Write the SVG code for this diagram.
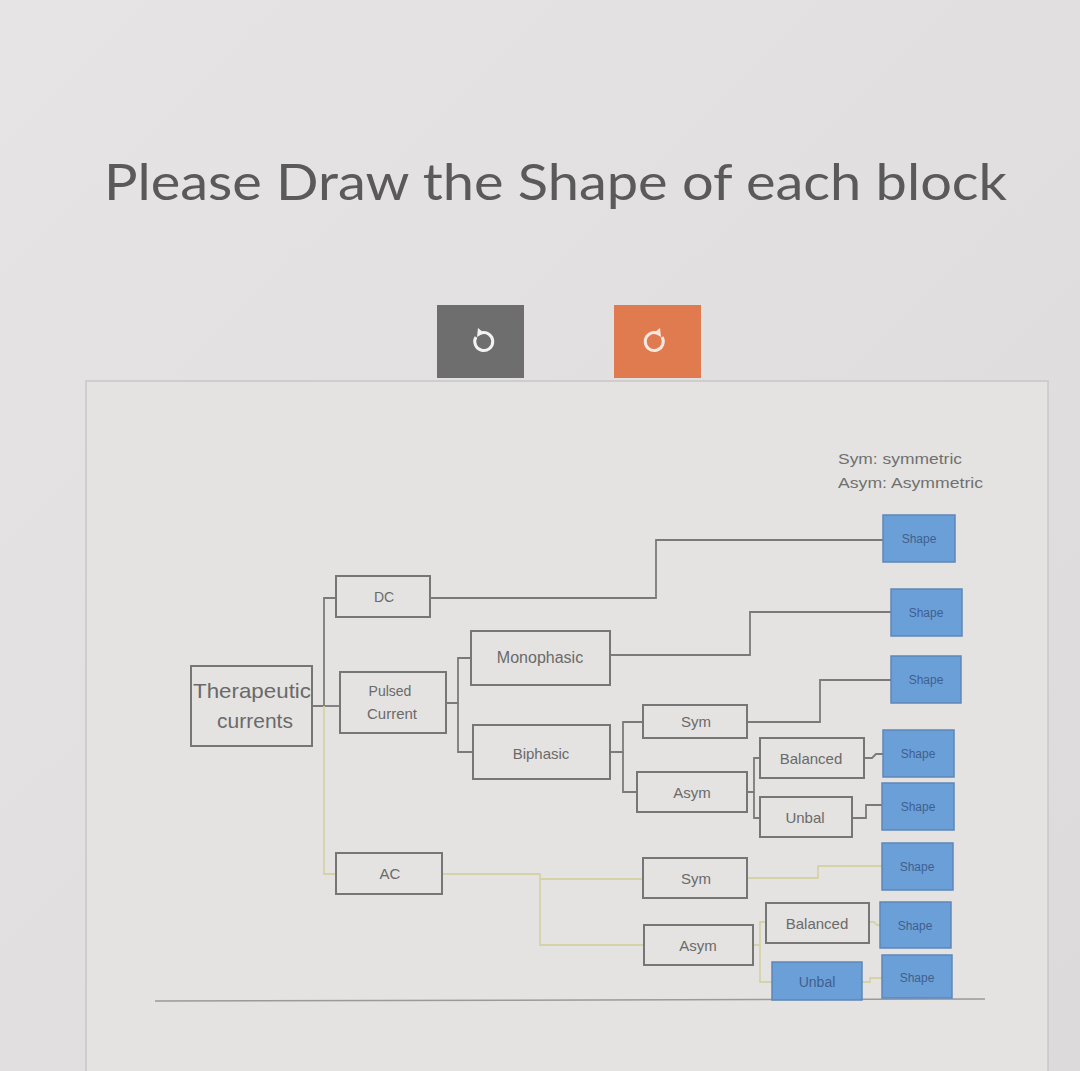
<svg xmlns="http://www.w3.org/2000/svg" width="1080" height="1071" viewBox="0 0 1080 1071">
<defs>
<linearGradient id="bg" x1="0" y1="0" x2="1" y2="1">
<stop offset="0" stop-color="#e6e4e5"/>
<stop offset="1" stop-color="#dcdadb"/>
</linearGradient>
<style>
.box{fill:#e4e3e1;stroke:#767676;stroke-width:2}
.shape{fill:#6b9fd8;stroke:#5f86b8;stroke-width:1.5}
.lbl{font-family:"Liberation Sans",Arial,sans-serif;fill:#6a6a6a;text-anchor:middle}
.slbl{font-family:"Liberation Sans",Arial,sans-serif;fill:#3f5f8f;text-anchor:middle;font-size:12px}
.c{fill:none;stroke:#7a7a7a;stroke-width:1.8}
.y{fill:none;stroke:#d6d2a8;stroke-width:1.8}
</style>
</defs>
<rect width="1080" height="1071" fill="url(#bg)"/>
<text x="104" y="200" font-family="Lato,'Open Sans',sans-serif" font-size="50" fill="#5a5a5a" textLength="903" lengthAdjust="spacingAndGlyphs">Please Draw the Shape of each block</text>
<g id="undo">
<rect x="437" y="305" width="87" height="73" fill="#6e6e6e"/>
<path d="M476 337 A9 9 0 1 0 481 333" fill="none" stroke="#f2f2f2" stroke-width="3"/>
<path d="M478 328 L484 333 L477 337 Z" fill="#f2f2f2"/>
</g>
<g id="redo">
<rect x="614" y="305" width="87" height="73" fill="#e07b50"/>
<path d="M662 337 A9 9 0 1 1 657 333" fill="none" stroke="#f6e8e0" stroke-width="3"/>
<path d="M660 328 L654 333 L661 337 Z" fill="#f6e8e0"/>
</g>
<rect x="86" y="381" width="962" height="700" fill="#e4e3e1" stroke="#c8c8c8" stroke-width="1.5"/>
<line x1="155" y1="1001" x2="985" y2="999" stroke="#9a9a9a" stroke-width="1.5"/>
<g id="legend" font-family="'Liberation Sans',Arial,sans-serif" font-size="15" fill="#707070">
<text x="838" y="464" textLength="124" lengthAdjust="spacingAndGlyphs">Sym: symmetric</text>
<text x="838" y="488" textLength="145" lengthAdjust="spacingAndGlyphs">Asym: Asymmetric</text>
</g>
<g id="connectors">
<path class="c" d="M312 706 H324 V598 H336"/>
<path class="c" d="M324 706 H340"/>
<path class="y" d="M324 706 V874 H336"/>
<path class="c" d="M430 598 H656 V540 H883"/>
<path class="c" d="M446 703 H458 V658 H471"/>
<path class="c" d="M458 703 V752 H473"/>
<path class="c" d="M610 655 H750 V612 H891"/>
<path class="c" d="M610 752 H623 V722 H643"/>
<path class="c" d="M623 752 V792 H637"/>
<path class="c" d="M747 722 H820 V680 H891"/>
<path class="c" d="M747 792 H754 V758 H760"/>
<path class="c" d="M754 792 V818 H760"/>
<path class="c" d="M864 758 H872 L876 754 H883"/>
<path class="c" d="M852 818 H866 V805 H882"/>
<path class="y" d="M442 874 H540 V879 H643"/>
<path class="y" d="M540 879 V945 H644"/>
<path class="y" d="M747 878 H818 V866 H882"/>
<path class="y" d="M753 945 H760 V922 H766"/>
<path class="y" d="M760 945 V982 H772"/>
<path class="y" d="M869 922 H874 L877 925 H880"/>
<path class="y" d="M862 982 H870 V978 H882"/>
</g>
<g id="therapeutic"><rect class="box" x="191" y="666" width="121" height="80"/><text class="lbl" x="252" y="698" font-size="21" textLength="118" lengthAdjust="spacingAndGlyphs">Therapeutic</text><text class="lbl" x="255" y="728" font-size="21">currents</text></g>
<g id="dc"><rect class="box" x="336" y="576" width="94" height="41"/><text class="lbl" x="384" y="602" font-size="14">DC</text></g>
<g id="pulsed"><rect class="box" x="340" y="672" width="106" height="61"/><text class="lbl" x="390" y="696" font-size="14">Pulsed</text><text class="lbl" x="392" y="719" font-size="15">Current</text></g>
<g id="ac"><rect class="box" x="336" y="853" width="106" height="41"/><text class="lbl" x="390" y="879" font-size="15">AC</text></g>
<g id="monophasic"><rect class="box" x="471" y="631" width="139" height="54"/><text class="lbl" x="540" y="663" font-size="16">Monophasic</text></g>
<g id="biphasic"><rect class="box" x="473" y="725" width="137" height="54"/><text class="lbl" x="541" y="759" font-size="15">Biphasic</text></g>
<g id="sym1"><rect class="box" x="643" y="705" width="104" height="33"/><text class="lbl" x="696" y="727" font-size="15">Sym</text></g>
<g id="asym1"><rect class="box" x="637" y="772" width="110" height="40"/><text class="lbl" x="692" y="798" font-size="15">Asym</text></g>
<g id="balanced1"><rect class="box" x="760" y="738" width="104" height="40"/><text class="lbl" x="811" y="764" font-size="15">Balanced</text></g>
<g id="unbal1"><rect class="box" x="760" y="797" width="92" height="40"/><text class="lbl" x="805" y="823" font-size="15">Unbal</text></g>
<g id="sym2"><rect class="box" x="643" y="858" width="104" height="40"/><text class="lbl" x="696" y="884" font-size="15">Sym</text></g>
<g id="asym2"><rect class="box" x="644" y="925" width="109" height="40"/><text class="lbl" x="698" y="951" font-size="15">Asym</text></g>
<g id="balanced2"><rect class="box" x="766" y="903" width="103" height="40"/><text class="lbl" x="817" y="929" font-size="15">Balanced</text></g>
<g id="unbal2"><rect class="shape" x="772" y="962" width="90" height="38"/><text class="slbl" x="817" y="987" style="font-size:14px">Unbal</text></g>
<g id="shape1"><rect class="shape" x="883" y="515" width="72" height="47"/><text class="slbl" x="919" y="543">Shape</text></g>
<g id="shape2"><rect class="shape" x="891" y="589" width="71" height="47"/><text class="slbl" x="926" y="617">Shape</text></g>
<g id="shape3"><rect class="shape" x="891" y="656" width="70" height="47"/><text class="slbl" x="926" y="684">Shape</text></g>
<g id="shape4"><rect class="shape" x="883" y="730" width="71" height="47"/><text class="slbl" x="918" y="758">Shape</text></g>
<g id="shape5"><rect class="shape" x="882" y="783" width="72" height="47"/><text class="slbl" x="918" y="811">Shape</text></g>
<g id="shape6"><rect class="shape" x="882" y="843" width="71" height="47"/><text class="slbl" x="917" y="871">Shape</text></g>
<g id="shape7"><rect class="shape" x="880" y="902" width="71" height="46"/><text class="slbl" x="915" y="930">Shape</text></g>
<g id="shape8"><rect class="shape" x="882" y="955" width="70" height="43"/><text class="slbl" x="917" y="982">Shape</text></g>
</svg>
